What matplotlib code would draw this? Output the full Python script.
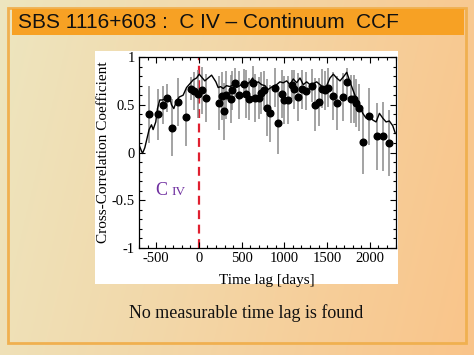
import numpy as np
import matplotlib
matplotlib.use("Agg")
import matplotlib.pyplot as plt
from matplotlib.patches import Rectangle
from matplotlib.ticker import MultipleLocator

# CCF curve (time lag in days, coefficient)
ccf_lag = [-700, -659, -632, -582, -554, -535, -504, -484, -457, -425, -398, -371,
           -340, -320, -293, -269, -231, -184, -144, -105, -67, -27, 4, 32, 70,
           109, 149, 199, 226, 254, 285, 324, 363, 402, 441, 480, 519, 559, 597,
           629, 656, 694, 734, 773, 811, 858, 910, 948, 987, 1027, 1066, 1104,
           1144, 1183, 1221, 1261, 1300, 1338, 1378, 1417, 1456, 1495, 1534,
           1573, 1612, 1651, 1698, 1730, 1760, 1800, 1838, 1877, 1917, 1956,
           1994, 2034, 2073, 2112, 2151, 2190, 2228, 2268, 2298]
ccf_val = [0.08, -0.01, 0.05, 0.24, 0.29, 0.24, 0.32, 0.46, 0.55, 0.55, 0.56, 0.57,
           0.57, 0.50, 0.46, 0.52, 0.58, 0.60, 0.68, 0.72, 0.76, 0.78, 0.82, 0.79,
           0.75, 0.78, 0.81, 0.74, 0.68, 0.69, 0.67, 0.70, 0.69, 0.71, 0.68, 0.70,
           0.73, 0.71, 0.74, 0.78, 0.72, 0.74, 0.71, 0.70, 0.66, 0.69, 0.71, 0.74,
           0.73, 0.75, 0.71, 0.77, 0.73, 0.78, 0.71, 0.74, 0.71, 0.72, 0.74, 0.71,
           0.68, 0.70, 0.78, 0.82, 0.78, 0.75, 0.80, 0.84, 0.76, 0.66, 0.57, 0.50,
           0.41, 0.36, 0.39, 0.34, 0.32, 0.41, 0.36, 0.32, 0.33, 0.28, 0.20]

# DCF points with error bars
pt_lag = [-585, -476, -418, -371, -312, -242, -156, -86, -55, -15, 31, 82, 234,
          266, 293, 316, 371, 390, 422, 472, 527, 550, 589, 636, 656, 706, 726,
          765, 793, 831, 890, 921, 976, 999, 1046, 1085, 1116, 1155, 1202, 1253,
          1319, 1358, 1405, 1444, 1475, 1514, 1566, 1620, 1690, 1737, 1776, 1815,
          1838, 1873, 1924, 1994, 2081, 2159, 2228]
pt_val = [0.40, 0.40, 0.50, 0.57, 0.26, 0.53, 0.37, 0.67, 0.64, 0.61, 0.65, 0.57,
          0.52, 0.59, 0.43, 0.60, 0.56, 0.65, 0.73, 0.60, 0.72, 0.61, 0.56, 0.73,
          0.57, 0.57, 0.62, 0.65, 0.47, 0.41, 0.68, 0.31, 0.61, 0.55, 0.55, 0.71,
          0.66, 0.58, 0.66, 0.64, 0.70, 0.50, 0.53, 0.67, 0.65, 0.68, 0.59, 0.52,
          0.58, 0.74, 0.56, 0.56, 0.52, 0.47, 0.11, 0.38, 0.17, 0.17, 0.10]
pt_err = [0.30, 0.27, 0.20, 0.15, 0.30, 0.25, 0.30, 0.12, 0.20, 0.25, 0.25, 0.25,
          0.28, 0.25, 0.30, 0.25, 0.25, 0.20, 0.15, 0.25, 0.15, 0.25, 0.22, 0.18,
          0.25, 0.22, 0.22, 0.20, 0.30, 0.30, 0.20, 0.33, 0.25, 0.25, 0.25, 0.15,
          0.20, 0.25, 0.20, 0.20, 0.17, 0.28, 0.25, 0.20, 0.20, 0.20, 0.25, 0.28,
          0.25, 0.15, 0.25, 0.25, 0.25, 0.25, 0.33, 0.30, 0.35, 0.36, 0.35]

W, H = 474, 355
fig = plt.figure(figsize=(W / 100, H / 100), dpi=100)

# slide background in pixel coords
bg = fig.add_axes([0, 0, 1, 1])
bg.set_xlim(0, W)
bg.set_ylim(H, 0)
bg.axis("off")
xx, yy = np.meshgrid(np.linspace(0, 1, 200), np.linspace(0, 1, 150))
t = np.clip(0.85 * xx + 0.15 * yy, 0, 1)
c0 = np.array([0.93, 0.90, 0.75])
c1 = np.array([0.98, 0.77, 0.54])
grad = c0[None, None, :] * (1 - t[..., None]) + c1[None, None, :] * t[..., None]
bg.imshow(grad, extent=[0, W, H, 0], aspect="auto", zorder=0)
bg.add_patch(Rectangle((8, 8), 458, 335, fill=False, edgecolor="#F0B050", lw=2, zorder=1))
bg.add_patch(Rectangle((12, 9), 452, 26, facecolor="#F7A124", edgecolor="none", zorder=2))
bg.text(18, 22.5, "SBS 1116+603 :  C IV \u2013 Continuum  CCF", fontsize=15,
        family="Liberation Sans", va="center", ha="left", color="#111111", zorder=3)
bg.add_patch(Rectangle((95, 51), 303, 233, facecolor="white", edgecolor="none", zorder=2))
bg.text(246, 313, "No measurable time lag is found", fontsize=13,
        family="Liberation Serif", va="center", ha="center", color="#111111", zorder=3)

# CCF panel
ax = fig.add_axes([139 / W, 1 - 248 / H, 256.5 / W, 191 / H])
ax.set_zorder(2)
ax.axvline(0, color="#E02030", lw=1.6, ls=(0, (4, 2.5)), zorder=1)
ax.errorbar(pt_lag, pt_val, yerr=pt_err, fmt="o", color="black", ms=4.8,
            ecolor="#8a8a8a", elinewidth=1.1, capsize=0, zorder=2)
ax.plot(ccf_lag, ccf_val, color="black", lw=1.0, zorder=3)

ax.set_xlim(-700, 2300)
ax.set_ylim(-1, 1)
ax.xaxis.set_minor_locator(MultipleLocator(100))
ax.yaxis.set_minor_locator(MultipleLocator(0.1))
ax.set_yticks([-1, -0.5, 0, 0.5, 1])
ax.set_yticklabels(["-1", "-0.5", "0", "0.5", "1"])
ax.set_xticks([-500, 0, 500, 1000, 1500, 2000])
ax.set_xticklabels(["-500", "0", "500", "1000", "1500", "2000"])
ax.tick_params(which="both", direction="in", top=True, right=True, width=0.8,
               labelsize=10.5, pad=3)
ax.tick_params(which="major", length=4)
ax.tick_params(which="minor", length=2)
for lab in ax.get_xticklabels() + ax.get_yticklabels():
    lab.set_family("Liberation Serif")
for s in ax.spines.values():
    s.set_linewidth(0.9)

ax.set_xlabel("Time lag [days]", family="Liberation Serif", fontsize=11)
ax.xaxis.set_label_coords(0.5, -0.135)
ax.set_ylabel("Cross-Correlation Coefficient", family="Liberation Serif", fontsize=11)
ax.yaxis.set_label_coords(-0.115, 0.5)

ax.text(-515, -0.45, "C", family="Liberation Serif", fontsize=13, color="#7030A0",
        va="baseline", ha="left")
ax.text(-320, -0.45, "IV", family="Liberation Serif", fontsize=9.5, color="#7030A0",
        va="baseline", ha="left")

fig.savefig("out.png", dpi=100)
